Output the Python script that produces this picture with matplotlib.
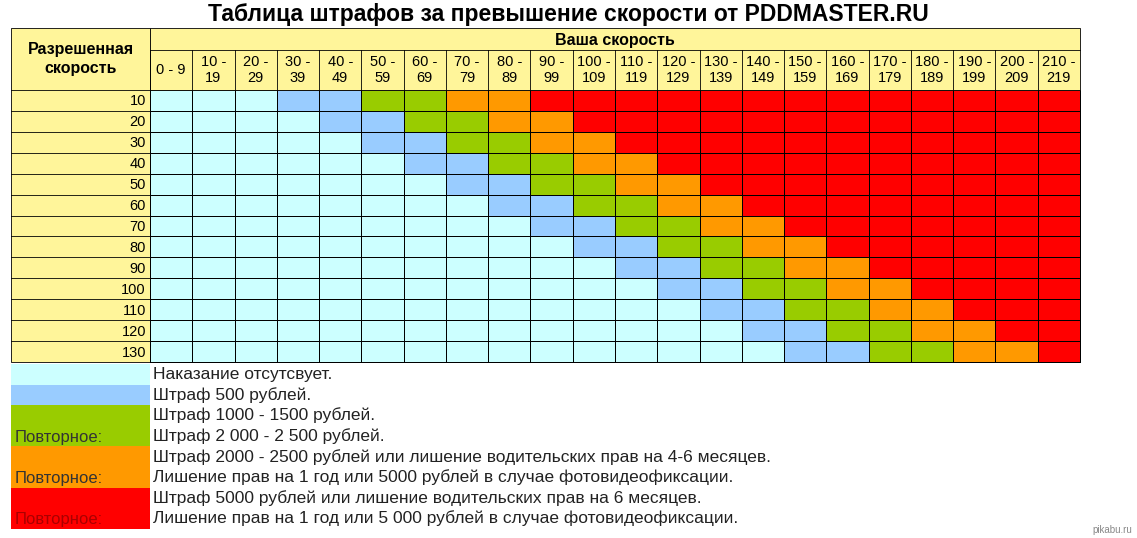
import numpy as np
import matplotlib
matplotlib.use('Agg')
import matplotlib.pyplot as plt
from matplotlib.colors import ListedColormap
from matplotlib.patches import Rectangle

plt.rcParams['font.family'] = 'Liberation Sans'

# --- data ---
speed_cols = ["0 - 9", "10 -\n19", "20 -\n29", "30 -\n39", "40 -\n49", "50 -\n59",
              "60 -\n69", "70 -\n79", "80 -\n89", "90 -\n99", "100 -\n109", "110 -\n119",
              "120 -\n129", "130 -\n139", "140 -\n149", "150 -\n159", "160 -\n169",
              "170 -\n179", "180 -\n189", "190 -\n199", "200 -\n209", "210 -\n219"]
allowed = [10, 20, 30, 40, 50, 60, 70, 80, 90, 100, 110, 120, 130]
# penalty category per cell: 0 none, 1 500 rub, 2 1000-1500, 3 2000-2500, 4 5000
grid_rows = [
    "0001122334444444444444",
    "0000112233444444444444",
    "0000011223344444444444",
    "0000001122334444444444",
    "0000000112233444444444",
    "0000000011223344444444",
    "0000000001122334444444",
    "0000000000112233444444",
    "0000000000011223344444",
    "0000000000001122334444",
    "0000000000000112233444",
    "0000000000000011223344",
    "0000000000000001122334",
]
cat_colors = ['#ccffff', '#99ccff', '#99cc00', '#ff9900', '#ff0000']
legend_rows = [
    (0, "", "Наказание отсутсвует."),
    (1, "", "Штраф 500 рублей."),
    (2, "", "Штраф 1000 - 1500 рублей."),
    (2, "Повторное:", "Штраф 2 000 - 2 500 рублей."),
    (3, "", "Штраф 2000 - 2500 рублей или лишение водительских прав на 4-6 месяцев."),
    (3, "Повторное:", "Лишение прав на 1 год или 5000 рублей в случае фотовидеофиксации."),
    (4, "", "Штраф 5000 рублей или лишение водительских прав на 6 месяцев."),
    (4, "Повторное:", "Лишение прав на 1 год или 5 000 рублей в случае фотовидеофиксации."),
]
title = "Таблица штрафов за превышение скорости от PDDMASTER.RU"

# --- layout (pixels) ---
W, H = 1137, 538
X0, X1, XR = 11, 150, 1080
Y0, YH1, YH2, YB = 28, 50, 90, 362
LEG_H = 20.6
HEAD = '#fff59a'
LW = 0.6

fig = plt.figure(figsize=(W / 100, H / 100), dpi=100)
ax = fig.add_axes([0, 0, 1, 1])
ax.set_xlim(0, W); ax.set_ylim(H, 0); ax.axis('off')

nc, nr = len(speed_cols), len(allowed)
xe = np.linspace(X1, XR, nc + 1)
ye = np.linspace(YH2, YB, nr + 1)
cats = np.array([[int(ch) for ch in r] for r in grid_rows])
ax.pcolormesh(xe, ye, cats, cmap=ListedColormap(cat_colors), vmin=-0.5, vmax=4.5,
              edgecolors='black', linewidth=LW)

# header
ax.add_patch(Rectangle((X0, Y0), X1 - X0, YB - Y0, fc=HEAD, ec='black', lw=LW, zorder=0))
ax.add_patch(Rectangle((X1, Y0), XR - X1, YH2 - Y0, fc=HEAD, ec='black', lw=LW))
ax.plot([X1, XR], [YH1, YH1], color='black', lw=LW)
ax.plot([X0, X1], [YH2, YH2], color='black', lw=LW)
for y in ye[1:-1]:
    ax.plot([X0, X1], [y, y], color='black', lw=LW)
for i, lab in enumerate(speed_cols):
    ax.plot([xe[i], xe[i]], [YH1, YH2], color='black', lw=LW)
    ax.text((xe[i] + xe[i + 1]) / 2, (YH1 + YH2) / 2, lab, ha='center', va='center',
            fontsize=10.5, linespacing=1.15)
ax.text((X1 + XR) / 2, (Y0 + YH1) / 2 + 1, "Ваша скорость", ha='center', va='center',
        fontsize=11.5, fontweight='bold')
ax.text((X0 + X1) / 2, (Y0 + YH2) / 2, "Разрешенная\nскорость", ha='center', va='center',
        fontsize=11.5, fontweight='bold', linespacing=1.3)
for j, a in enumerate(allowed):
    ax.text(X1 - 4, (ye[j] + ye[j + 1]) / 2 + 1, str(a), ha='right', va='center', fontsize=10.5)

ax.text(568, 14, title, ha='center', va='center', fontsize=16.5, fontweight='bold')

# legend
ly = YB + 2
for k, (c, tag, txt) in enumerate(legend_rows):
    y = ly + k * LEG_H
    ax.add_patch(Rectangle((X0, y), X1 - X0, LEG_H, fc=cat_colors[c], ec='none'))
    if tag:
        ax.text(X0 + 4, y + LEG_H / 2 + 1, tag, ha='left', va='center', fontsize=12,
                color='#333333' if c < 4 else '#aa0000')
    ax.text(X1 + 3, y + LEG_H / 2, txt, ha='left', va='center', fontsize=12.5, color='#222222')

ax.text(W - 5, H - 8, "pikabu.ru", ha='right', va='center', fontsize=7, color='#888888')

fig.savefig('out.png', dpi=100, facecolor='white')
